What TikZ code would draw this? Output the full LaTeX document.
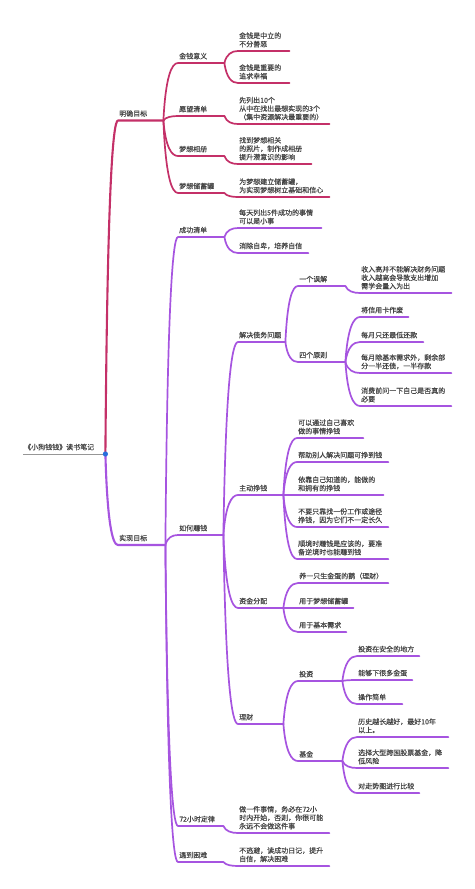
\documentclass[tikz,border=0pt]{standalone}
\usepackage{fontspec}
\newfontfamily\cjk[FakeBold=0.15]{Noto Sans CJK SC}
\usetikzlibrary{calc}
\definecolor{redb}{RGB}{196,48,104}
\definecolor{purb}{RGB}{166,84,224}
\definecolor{txt}{RGB}{68,68,68}
\definecolor{dotb}{RGB}{40,110,220}
\definecolor{rootl}{RGB}{150,150,150}
\begin{document}
\begin{tikzpicture}[x=1pt,y=-1pt,
  nd/.style={anchor=south west, inner xsep=1pt, inner ysep=3.5pt, align=left,
    text width=#1, font=\cjk\fontsize{7}{8.4}\selectfont, text=txt},
  br/.style={to path={let \p1=(\tikztostart), \p2=(\tikztotarget) in
    .. controls ({\x1+0.15*(\x2-\x1)},{\y1+0.75*(\y2-\y1)}) and ({0.45*\x1+0.55*\x2},\y2) .. (\tikztotarget)}},
  redl/.style={draw=redb, line width=1.7pt, line cap=round, line join=round},
  purl/.style={draw=purb, line width=1.7pt, line cap=round, line join=round},
  mainl/.style={line width=2.1pt}
]
\fill[white] (0,0) rectangle (474,889);
\useasboundingbox (0,0) rectangle (474,889);

% root
\node[nd=80pt] (root) at (23,454) {《小狗钱钱》读书笔记};

% red branch
\node[nd=43pt] (m1) at (118,120.5) {明确目标};
\node[nd=44pt] (a1) at (178,63) {金钱意义};
\node[nd=49pt] (a11) at (238,51) {金钱是中立的\\不分善恶};
\node[nd=49pt] (a12) at (238,83) {金钱是重要的\\追求幸福};
\node[nd=44pt] (a2) at (178,116) {愿望清单};
\node[nd=89pt] (a21) at (238,124) {先列出10个\\从中在找出最想实现的3个\\（集中资源解决最重要的）};
\node[nd=44pt] (a3) at (178,156) {梦想相册};
\node[nd=71pt] (a31) at (238,164) {找到梦想相关\\的照片，制作成相册\\提升潜意识的影响};
\node[nd=44pt] (a4) at (178,193) {梦想储蓄罐};
\node[nd=89pt] (a41) at (238,197) {为梦想建立储蓄罐，\\为实现梦想树立基础和信心};

% purple branch
\node[nd=45pt] (m2) at (118,545) {实现目标};
\node[nd=44pt] (b1) at (178,237) {成功清单};
\node[nd=81pt] (b11) at (238,228) {每天列出5件成功的事情\\可以是小事};
\node[nd=68pt] (b12) at (238,253) {消除自卑，培养自信};
\node[nd=43pt] (b2) at (178,535) {如何赚钱};
\node[nd=45pt] (c1) at (238,342) {解决债务问题};
\node[nd=45pt] (c11) at (298,286) {一个误解};
\node[nd=89pt] (c111) at (360,293) {收入高并不能解决财务问题\\收入越高会导致支出增加\\需学会量入为出};
\node[nd=45pt] (c12) at (298,362) {四个原则};
\node[nd=46pt] (c121) at (360,317) {将信用卡作废};
\node[nd=61pt] (c122) at (360,342) {每月只还最低还款};
\node[nd=89pt] (c123) at (360,373) {每月除基本需求外，剩余部\\分一半还债，一半存款};
\node[nd=89pt] (c124) at (360,406) {消费前问一下自己是否真的\\必要};
\node[nd=43pt] (c2) at (238,495) {主动挣钱};
\node[nd=64pt] (c21) at (297,438) {可以通过自己喜欢\\做的事情挣钱};
\node[nd=89pt] (c22) at (297,462) {帮助别人解决问题可挣到钱};
\node[nd=84pt] (c23) at (297,495) {依靠自己知道的，能做的\\和拥有的挣钱};
\node[nd=89pt] (c24) at (297,527) {不要只靠找一份工作或途径\\挣钱，因为它们不一定长久};
\node[nd=89pt] (c25) at (297,559) {顺境时赚钱是应该的，要准\\备逆境时也能赚到钱};
\node[nd=43pt] (c3) at (238,608) {资金分配};
\node[nd=88pt] (c31) at (298,583) {养一只生金蛋的鹅（理财）};
\node[nd=53pt] (c32) at (298,608) {用于梦想储蓄罐};
\node[nd=46pt] (c33) at (298,632) {用于基本需求};
\node[nd=43pt] (c4) at (238,724) {理财};
\node[nd=42pt] (c41) at (298,681) {投资};
\node[nd=60pt] (c411) at (357,656) {投资在安全的地方};
\node[nd=53pt] (c412) at (357,680) {能够下很多金蛋};
\node[nd=43pt] (c413) at (357,704) {操作简单};
\node[nd=42pt] (c42) at (298,761) {基金};
\node[nd=89pt] (c421) at (357,737) {历史越长越好，最好10年\\以上。};
\node[nd=89pt] (c422) at (357,768) {选择大型跨国股票基金，降\\低风险};
\node[nd=60pt] (c423) at (357,793) {对走势图进行比较};
\node[nd=43pt] (b3) at (178,826) {72小时定律};
\node[nd=89pt] (b31) at (238,833) {做一件事情，务必在72小\\时内开始，否则，你很可能\\永远不会做这件事};
\node[nd=43pt] (b4) at (178,862) {遇到困难};
\node[nd=89pt] (b41) at (238,866) {不逃避，读成功日记，提升\\自信，解决困难};

% red connectors
\draw[redl,mainl] (root.south east) to[br] (m1.south west) -- (m1.south east);
\foreach \c in {a1,a2,a3,a4}
  \draw[redl] (m1.south east) to[br] (\c.south west) -- (\c.south east);
\foreach \p/\c in {a1/a11,a1/a12,a2/a21,a3/a31,a4/a41}
  \draw[redl] (\p.south east) to[br] (\c.south west) -- (\c.south east);

% purple connectors
\draw[purl,mainl] (root.south east) to[br] (m2.south west) -- (m2.south east);
\foreach \c in {b1,b2,b3,b4}
  \draw[purl] (m2.south east) to[br] (\c.south west) -- (\c.south east);
\foreach \p/\c in {b1/b11,b1/b12,b2/c1,b2/c2,b2/c3,b2/c4,
    c1/c11,c1/c12,c11/c111,c12/c121,c12/c122,c12/c123,c12/c124,
    c2/c21,c2/c22,c2/c23,c2/c24,c2/c25,
    c3/c31,c3/c32,c3/c33,
    c4/c41,c4/c42,c41/c411,c41/c412,c41/c413,c42/c421,c42/c422,c42/c423,
    b3/b31,b4/b41}
  \draw[purl] (\p.south east) to[br] (\c.south west) -- (\c.south east);

% root underline and dot
\draw[rootl, line width=0.9pt] (root.south west) -- (root.south east);
\fill[dotb] (root.south east) circle (2.6);
\end{tikzpicture}
\end{document}
